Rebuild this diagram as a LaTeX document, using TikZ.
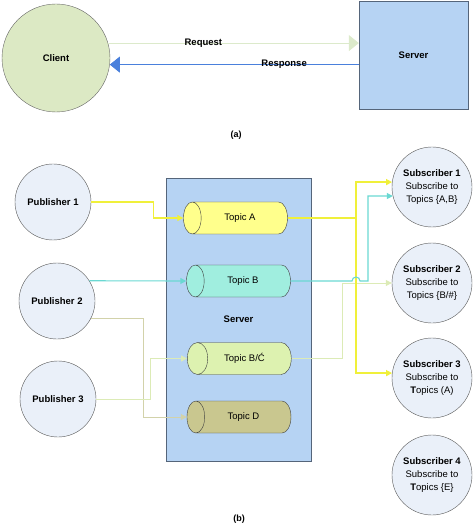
\documentclass[tikz,border=0pt]{standalone}
\usepackage{fontspec}
\setmainfont{Liberation Sans}
\usetikzlibrary{shapes.geometric,arrows.meta}

\definecolor{clientfill}{HTML}{DCE9C4}
\definecolor{srvfill}{HTML}{B6D3F3}
\definecolor{srvdraw}{HTML}{55657A}
\definecolor{peerfill}{HTML}{EAF0F9}
\definecolor{reqgreen}{HTML}{DCEACB}
\definecolor{respblue}{HTML}{4A80DC}
\definecolor{ylwline}{HTML}{F0F03A}
\definecolor{ylwfill}{HTML}{FFFF8C}
\definecolor{cyanline}{HTML}{6AD8D2}
\definecolor{cyanfill}{HTML}{A0EEDF}
\definecolor{lgline}{HTML}{DCEBB6}
\definecolor{lgfill}{HTML}{DDF2B0}
\definecolor{oliveline}{HTML}{D2D2AA}
\definecolor{olivefill}{HTML}{C9C78F}

\tikzset{
  lbl/.style={font=\fontsize{9.5}{11}\selectfont},
  peer/.style={circle, draw=black!65, fill=peerfill, minimum size=76pt, inner sep=0pt,
    align=center, font=\bfseries\fontsize{9.5}{11}\selectfont},
  sub/.style={circle, draw=black!65, fill=peerfill, minimum size=80pt, inner sep=0pt,
    align=center, font=\fontsize{9.5}{13}\selectfont},
  topic/.style={cylinder, shape border rotate=180, draw=black!75, aspect=2,
    minimum height=104pt, minimum width=32pt, inner sep=0pt, lbl},
  tip/.style={-{Triangle[length=6pt,width=6pt]}},
}

\begin{document}
\begin{tikzpicture}[x=1pt, y=-1pt]
        \useasboundingbox (0,0) rectangle (474,526);
        % Part (a): client and server.
            \node[circle, draw=black!60, fill=clientfill, minimum size=108pt, inner sep=0pt,
              font=\bfseries\fontsize{9.5}{11}\selectfont] (client) at (56,58) {Client};
            \node[draw=srvdraw, fill=srvfill, minimum width=109pt, minimum height=108pt,
              font=\bfseries\fontsize{9.5}{11}\selectfont] (server) at (413.5,55) {Server};
            \draw[reqgreen, line width=0.8pt, -{Triangle[length=10pt,width=16pt]}]
              (client.16) -- (client.16 -| server.west)
              node[pos=0.38, black, font=\bfseries\fontsize{9.5}{11}\selectfont] {Request};
            \draw[respblue, line width=0.8pt, -{Triangle[length=10pt,width=16pt]}]
              (client.-7 -| server.west) -- (client.-7)
              node[pos=0.3, black, font=\bfseries\fontsize{9.5}{11}\selectfont] {Response};
            \node[font=\bfseries\fontsize{9}{11}\selectfont] (capa) at (236,135) {(a)};
        % Part (b): the broker with its topics.
            \node[draw=srvdraw, fill=srvfill, minimum width=145pt, minimum height=283pt,
              font=\bfseries\fontsize{9.5}{11}\selectfont] (broker) at (238.5,319.5) {Server};
            \node[topic, fill=ylwfill] (topA) at (240,218) {Topic A};
            \node[topic, fill=cyanfill] (topB) at (243,281) {Topic B};
            \node[topic, fill=lgfill] (topBC) at (244.5,358.5) {Topic B/Ć};
            \node[topic, fill=olivefill] (topD) at (243.5,417) {Topic D};
        % Publishers and subscribers.
            \node[peer] (pub1) at (53,202) {Publisher 1};
            \node[peer] (pub2) at (57,301) {Publisher 2};
            \node[peer] (pub3) at (58,399) {Publisher 3};
            \node[sub] (sub1) at (432,187) {\textbf{Subscriber 1}\\Subscribe to\\Topics \{A,B\}};
            \node[sub] (sub2) at (432,283) {\textbf{Subscriber 2}\\Subscribe to\\Topics \{B/\#\}};
            \node[sub] (sub3) at (432,378) {\textbf{Subscriber 3}\\Subscribe to\\\textbf{T}opics (A)};
            \node[sub] (sub4) at (432,475) {\textbf{Subscriber 4}\\Subscribe to\\\textbf{T}opics \{E\}};
        % Publisher side links.
            \draw[ylwline, line width=1.4pt, tip] (pub1.east) -- ++(62,0) |- (topA.west);
            \draw[cyanline, line width=1.1pt, tip] (pub2.32) -- (topB.west);
            \draw[oliveline, line width=1pt, tip] (pub2.-28) -- ++(52.5,0) |- (topD.west);
            \draw[lgline, line width=1pt, tip] (pub3.east) -- ++(54,0) |- (topBC.west);
        % Subscriber side links.
            \coordinate (ysplit) at (356,218);
            \draw[lgline, line width=1pt, tip] (topBC.east) -- ++(51,0) |- (sub2.west);
            \draw[ylwline, line width=1.4pt] (topA.east) -- (ysplit);
            \draw[ylwline, line width=1.4pt, tip] (ysplit) |- (sub1.173);
            \draw[ylwline, line width=1.4pt, tip] (ysplit) |- (sub3.173);
            \draw[cyanline, line width=1.1pt, tip] (topB.east) -- ([xshift=-4pt]ysplit |- topB.east)
              arc[start angle=180, end angle=360, radius=4] -- ++(8,0) |- (sub1.193);
        % Caption.
            \node[font=\bfseries\fontsize{9}{11}\selectfont] (capb) at (239,519) {(b)};
    \end{tikzpicture}
\end{document}
